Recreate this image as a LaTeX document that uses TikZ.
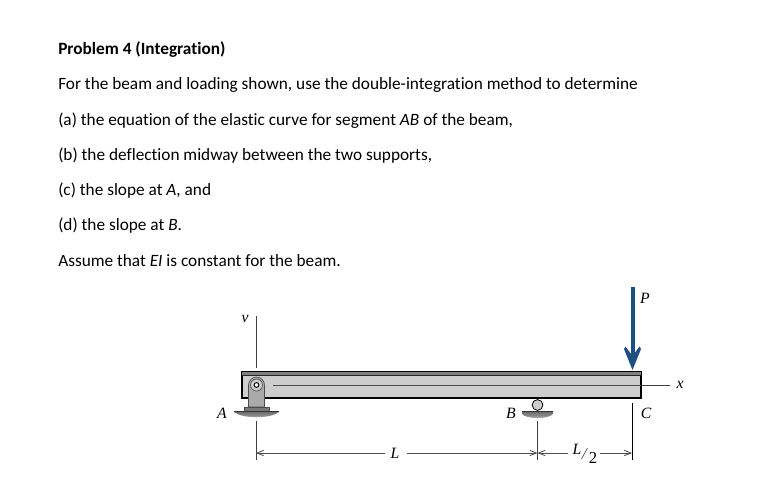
\documentclass[tikz,border=0pt]{standalone}
\usepackage{fontspec}
\setmainfont[Ligatures=NoCommon]{Carlito}
\newfontfamily\figfont{Liberation Serif}
\usetikzlibrary{arrows.meta}
\definecolor{beamgray}{RGB}{205,205,205}
\definecolor{pingray}{RGB}{170,170,170}
\definecolor{basedark}{RGB}{105,105,105}
\definecolor{baselight}{RGB}{205,205,205}
\definecolor{loadblue}{RGB}{31,78,128}
\tikzset{
 x=0.75pt,y=-0.75pt,
 para/.style={anchor=base west,inner sep=0pt,font=\fontsize{12.95pt}{14pt}\selectfont},
 figlabel/.style={anchor=base,inner sep=0pt,font=\figfont\itshape\fontsize{11.8pt}{14pt}\selectfont},
 thinline/.style={draw=black!75,line width=0.6pt},
 dim/.style={draw=black!70,line width=0.6pt},
 dimarrow/.style={dim,-{Straight Barb[length=5pt,width=4pt]}},
 basefill/.style={top color=basedark,bottom color=baselight,middle color=basedark!70!baselight},
}
\begin{document}
\begin{tikzpicture}
\useasboundingbox (0,0) rectangle (762,480);
\fill[white] (0,0) rectangle (762,480);
\node[para,font=\bfseries\fontsize{12.95pt}{14pt}\selectfont] (t0) at (58,54) {Problem 4 (Integration)};
\node[para] (t1) at (58,89.5) {For the beam and loading shown, use the double-integration method to determine};
\node[para] (t2) at (58,125) {(a) the equation of the elastic curve for segment \textit{AB} of the beam,};
\node[para] (t3) at (58,160) {(b) the deflection midway between the two supports,};
\node[para] (t4) at (58,195) {(c) the slope at \textit{A}, and};
\node[para] (t5) at (58,230) {(d) the slope at \textit{B}.};
\node[para] (t6) at (58,266) {Assume that \textit{EI} is constant for the beam.};
% axes
\coordinate (vtop) at (256,316);
\coordinate (vbot) at (256,368);
\draw[thinline] (vtop) -- (vbot);
\coordinate (xl) at (641,385);
\coordinate (xr) at (670,385);
\draw[thinline] (xl) -- (xr);
% beam
\fill[beamgray] (242,372) rectangle (641,398);
\draw[black,line width=0.8pt] (242,372) rectangle (641,398);
\fill[black!50] (242,372) rectangle (641,375);
\draw[black!85,line width=0.8pt] (242,375.5) -- (641,375.5);
\draw[black,line width=1pt] (242,398) -- (641,398);
\coordinate (cl) at (273,385);
\draw[black!70,line width=0.6pt] (cl) -- (xl);
% pin support A
\fill[pingray,draw=black!70,line width=0.5pt] (248.5,407) -- (248.5,385) arc (180:360:8) -- (264.5,407) -- cycle;
\fill[beamgray,draw=black!70,line width=0.5pt] (256.5,385) circle (6);
\fill[white,draw=black,line width=0.7pt] (256.5,385) circle (2.4);
\fill[pingray!70!black,draw=black!70,line width=0.4pt] (244,407) rectangle (269,411);
\shade[basefill] (234,411) -- (279,411) -- (279,412) .. controls (270,419) and (243,419) .. (234,412) -- cycle;
\draw[black!80,line width=0.7pt] (234,411) -- (279,411);
% roller support B
\fill[beamgray,draw=black,line width=0.6pt] (537.5,405) circle (5.4);
\shade[basefill] (522,411) -- (553,411) -- (553,414) .. controls (548,419.5) and (527,419.5) .. (522,414) -- cycle;
\draw[black!80,line width=0.7pt] (522,411) -- (553,411);
% force
\coordinate (Ptop) at (632.5,287);
\coordinate (Ptip) at (632.5,370);
\draw[loadblue,line width=3pt] (Ptop) -- (632.5,360);
\fill[loadblue] (Ptip) -- (624,349) -- (625.5,346.5) -- (632.5,356) -- (639.5,346.5) -- (641,349) -- cycle;
% dimension lines
\coordinate (dA) at (256,421);
\coordinate (dAb) at (256,460);
\coordinate (dB) at (537.5,421);
\coordinate (dBb) at (537.5,460);
\coordinate (dC) at (632,403);
\coordinate (dCb) at (632,460);
\draw[thinline] (dA) -- (dAb);
\draw[thinline] (dB) -- (dBb);
\draw[black,line width=0.7pt] (dC) -- (dCb);
\node[figlabel] (lL) at (395,458) {L};
\coordinate (dL1) at (385,453);
\coordinate (dL2) at (407,453);
\coordinate (dA1) at (256,453);
\coordinate (dB1) at (537.5,453);
\coordinate (dC1) at (632,453);
\draw[dimarrow] (dL1) -- (dA1);
\draw[dimarrow] (dL2) -- (dB1);
\node[figlabel] (lh) at (577,454.5) {L};
\node[figlabel,font=\figfont\fontsize{12.5pt}{14pt}\selectfont] (l2) at (593,463.5) {2};
\draw[black!70,line width=0.5pt] (581.5,459) -- (587.5,448);
\coordinate (dH1) at (568,453);
\coordinate (dH2) at (600,453);
\draw[dimarrow] (dH1) -- (dB1);
\draw[dimarrow] (dH2) -- (dC1);
% labels
\node[figlabel] (lv) at (245,322.5) {v};
\node[figlabel] (lA) at (222,418) {A};
\node[figlabel] (lB) at (511,418) {B};
\node[figlabel] (lC) at (646,418) {C};
\node[figlabel] (lP) at (645,303) {P};
\node[figlabel] (lx) at (680,388) {x};
\end{tikzpicture}
\end{document}
